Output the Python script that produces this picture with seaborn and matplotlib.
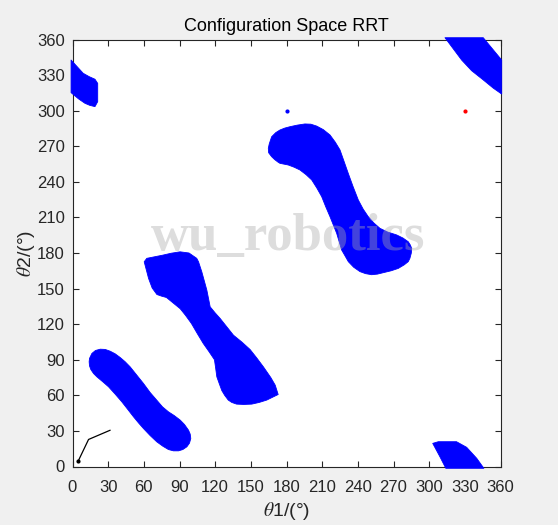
"""
Configuration space plot for the RRT planner, two-link arm.
Obstacle regions are outlined by hand from the picture.
"""

import matplotlib
matplotlib.use("Agg")
import matplotlib.pyplot as plt
import seaborn as sns

# obstacle outlines in joint space (degrees)
blob_a_t1 = [14.0, 14.3, 16.3, 19.3, 23.3, 27.5, 31.7, 35.9, 40.1, 44.3, 48.5, 54.1, 59.7, 65.3, 70.9, 75.7, 80.7, 85.5, 90.6, 94.2, 97.6, 99, 99.5, 98.4, 96.2, 92.8, 89.2, 84.9, 80.7, 76, 70.9, 65.3, 59.7, 55.5, 51.3, 46.5, 41.5, 35.9, 30.3, 25.5, 20.5, 17.7, 15.4, 14.3]
blob_a_t2 = [88.3, 91.1, 95.3, 97.8, 98.9, 98.7, 97.2, 95, 91.9, 88.3, 84, 77, 70, 62.4, 55.9, 50.3, 46.1, 43, 39.1, 35.4, 30.6, 27.3, 23.6, 19.7, 16.6, 14.3, 13.2, 13.2, 14.3, 17.1, 20.8, 26.1, 32, 36.8, 41.9, 48.1, 54.5, 61, 67.2, 71.4, 75.6, 78.4, 81.8, 84.9]

blob_b_t1 = [60.3, 64, 67, 71, 75, 79, 90.6, 95, 100, 105, 110, 114.7, 119.4, 120.4, 121.4, 123.4, 125.6, 128, 131, 134, 138, 144, 150.8, 157, 163.4, 173, 170.5, 166.8, 160.6, 155, 149.4, 142.6, 135.4, 130, 124.2, 120, 115.8, 113, 108.8, 106, 104.5, 98, 90.5, 83, 76, 62.5]
blob_b_t2 = [172.6, 158.5, 150.5, 145, 143.6, 142.5, 133, 127.5, 120.6, 112, 103.7, 97, 90, 83, 75.6, 70, 64, 60, 56, 54, 52.6, 52.3, 52.6, 54, 56, 60.7, 68.6, 75, 84, 91.5, 98.6, 104.8, 110.7, 117.5, 124.8, 129.5, 134.6, 148.7, 164, 172.6, 175.5, 180, 181, 179.8, 178.2, 175.5]

blob_c_t1 = [164.7, 165.5, 167.5, 171, 174.5, 178.5, 183, 189, 195.5, 200.5, 205.4, 211, 216.6, 221, 225, 228.5, 232, 236, 240.4, 244.5, 248.8, 253.5, 258.6, 265, 272.7, 278, 282.4, 284, 285.3, 285, 283.8, 282.4, 279, 274, 268, 261.4, 256.5, 251.6, 246.5, 241.8, 236.5, 232, 229, 226.4, 222.2, 216.6, 213, 209.6, 205.5, 201.2, 196.5, 191.3, 186.5, 181.5, 174.5, 173, 170, 167.5, 165]
blob_c_t2 = [268.3, 272, 278, 281.5, 283.7, 285.3, 286.5, 287.8, 288.8, 288.6, 287, 284, 279.5, 273.5, 266.9, 257, 247, 236, 224.7, 217, 210.6, 205.3, 200.8, 197.7, 195.2, 192.6, 189.5, 187, 184, 180, 175.5, 172.7, 170, 167, 165, 163.4, 162.2, 161.7, 162.6, 164.3, 168, 172.7, 178, 182.5, 196.6, 210.6, 219, 227.5, 234.8, 241.6, 246, 250, 252.3, 254.2, 255.6, 256.5, 258.8, 261.2, 264.5]

corner_tr_t1 = [313.3, 345.5, 361, 361, 353.9, 345.5, 335.7, 327.3]
corner_tr_t2 = [361.5, 361.5, 342.7, 314, 319, 325.9, 333.7, 342.7]

corner_tl_t1 = [-1.2, 4, 9, 14, 18.9, 21.2, 21.2, 18.9, 14.5, 10.5, 5, -1.2]
corner_tl_t2 = [342.7, 337, 331.5, 328.7, 326.5, 323, 307.6, 303.4, 304.5, 306.2, 310, 315.2]

corner_br_t1 = [303, 307.7, 323, 331.5, 340, 346, 314, 309]
corner_br_t2 = [19.5, 20.9, 20.9, 16.2, 6.9, -1.5, -1.5, 8.3]

# arm path and the start / goal points
path_t1 = [5, 13.5, 31.7]
path_t2 = [5, 22.8, 30.6]
start_t1, start_t2 = [180], [300]
goal_t1, goal_t2 = [330], [300]

ticks = list(range(0, 361, 30))

BG = "#f0f0f0"
DARK = "#262626"

sns.set_style("ticks")
plt.rcParams.update({
    "font.family": "Liberation Sans",
    "mathtext.fontset": "stix",
    "figure.facecolor": BG,
    "axes.edgecolor": DARK,
    "axes.linewidth": 0.8,
    "xtick.color": DARK,
    "ytick.color": DARK,
    "xtick.direction": "in",
    "ytick.direction": "in",
    "xtick.top": True,
    "ytick.right": True,
})

fig = plt.figure(figsize=(5.58, 5.25), dpi=100)
ax = fig.add_axes([72.5 / 558, 1 - 466.5 / 525, 428 / 558, 427 / 525])

outlines = [
    (blob_a_t1, blob_a_t2),
    (blob_b_t1, blob_b_t2),
    (blob_c_t1, blob_c_t2),
    (corner_tr_t1, corner_tr_t2),
    (corner_tl_t1, corner_tl_t2),
    (corner_br_t1, corner_br_t2),
]
for t1, t2 in outlines:
    ax.fill(t1, t2, facecolor="#0000ff", edgecolor="#0000ff", lw=0.6,
            joinstyle="round", clip_on=False, zorder=3)

sns.lineplot(x=path_t1, y=path_t2, sort=False, color="black", lw=0.9, ax=ax, zorder=4)
sns.scatterplot(x=path_t1[:1], y=path_t2[:1], color="black", s=9, lw=0, ax=ax, zorder=4)
sns.scatterplot(x=start_t1, y=start_t2, color="#0000ff", s=9, lw=0, ax=ax, zorder=4)
sns.scatterplot(x=goal_t1, y=goal_t2, color="#ff0000", s=9, lw=0, ax=ax, zorder=4)

ax.set_xlim(0, 360)
ax.set_ylim(0, 360)
ax.set_xticks(ticks)
ax.set_yticks(ticks)
ax.tick_params(axis="x", length=4, width=0.8, labelsize=12, pad=10)
ax.tick_params(axis="y", length=4, width=0.8, labelsize=12, pad=5.4)
ax.set_title("Configuration Space RRT", fontsize=13, color="black", pad=6)
ax.set_xlabel(r"$\theta$1/(°)", fontsize=14, color=DARK, labelpad=3)
ax.set_ylabel(r"$\theta$2/(°)", fontsize=14, color=DARK, labelpad=0)

# watermark sits on top of everything
fig.text(288 / 558, 1 - 237 / 525, "wu_robotics", family="Liberation Serif", weight="bold",
         fontsize=38, color="#aaaaaa", alpha=0.4, ha="center", va="center", zorder=10)

fig.savefig("out.png", dpi=100, facecolor=BG)
